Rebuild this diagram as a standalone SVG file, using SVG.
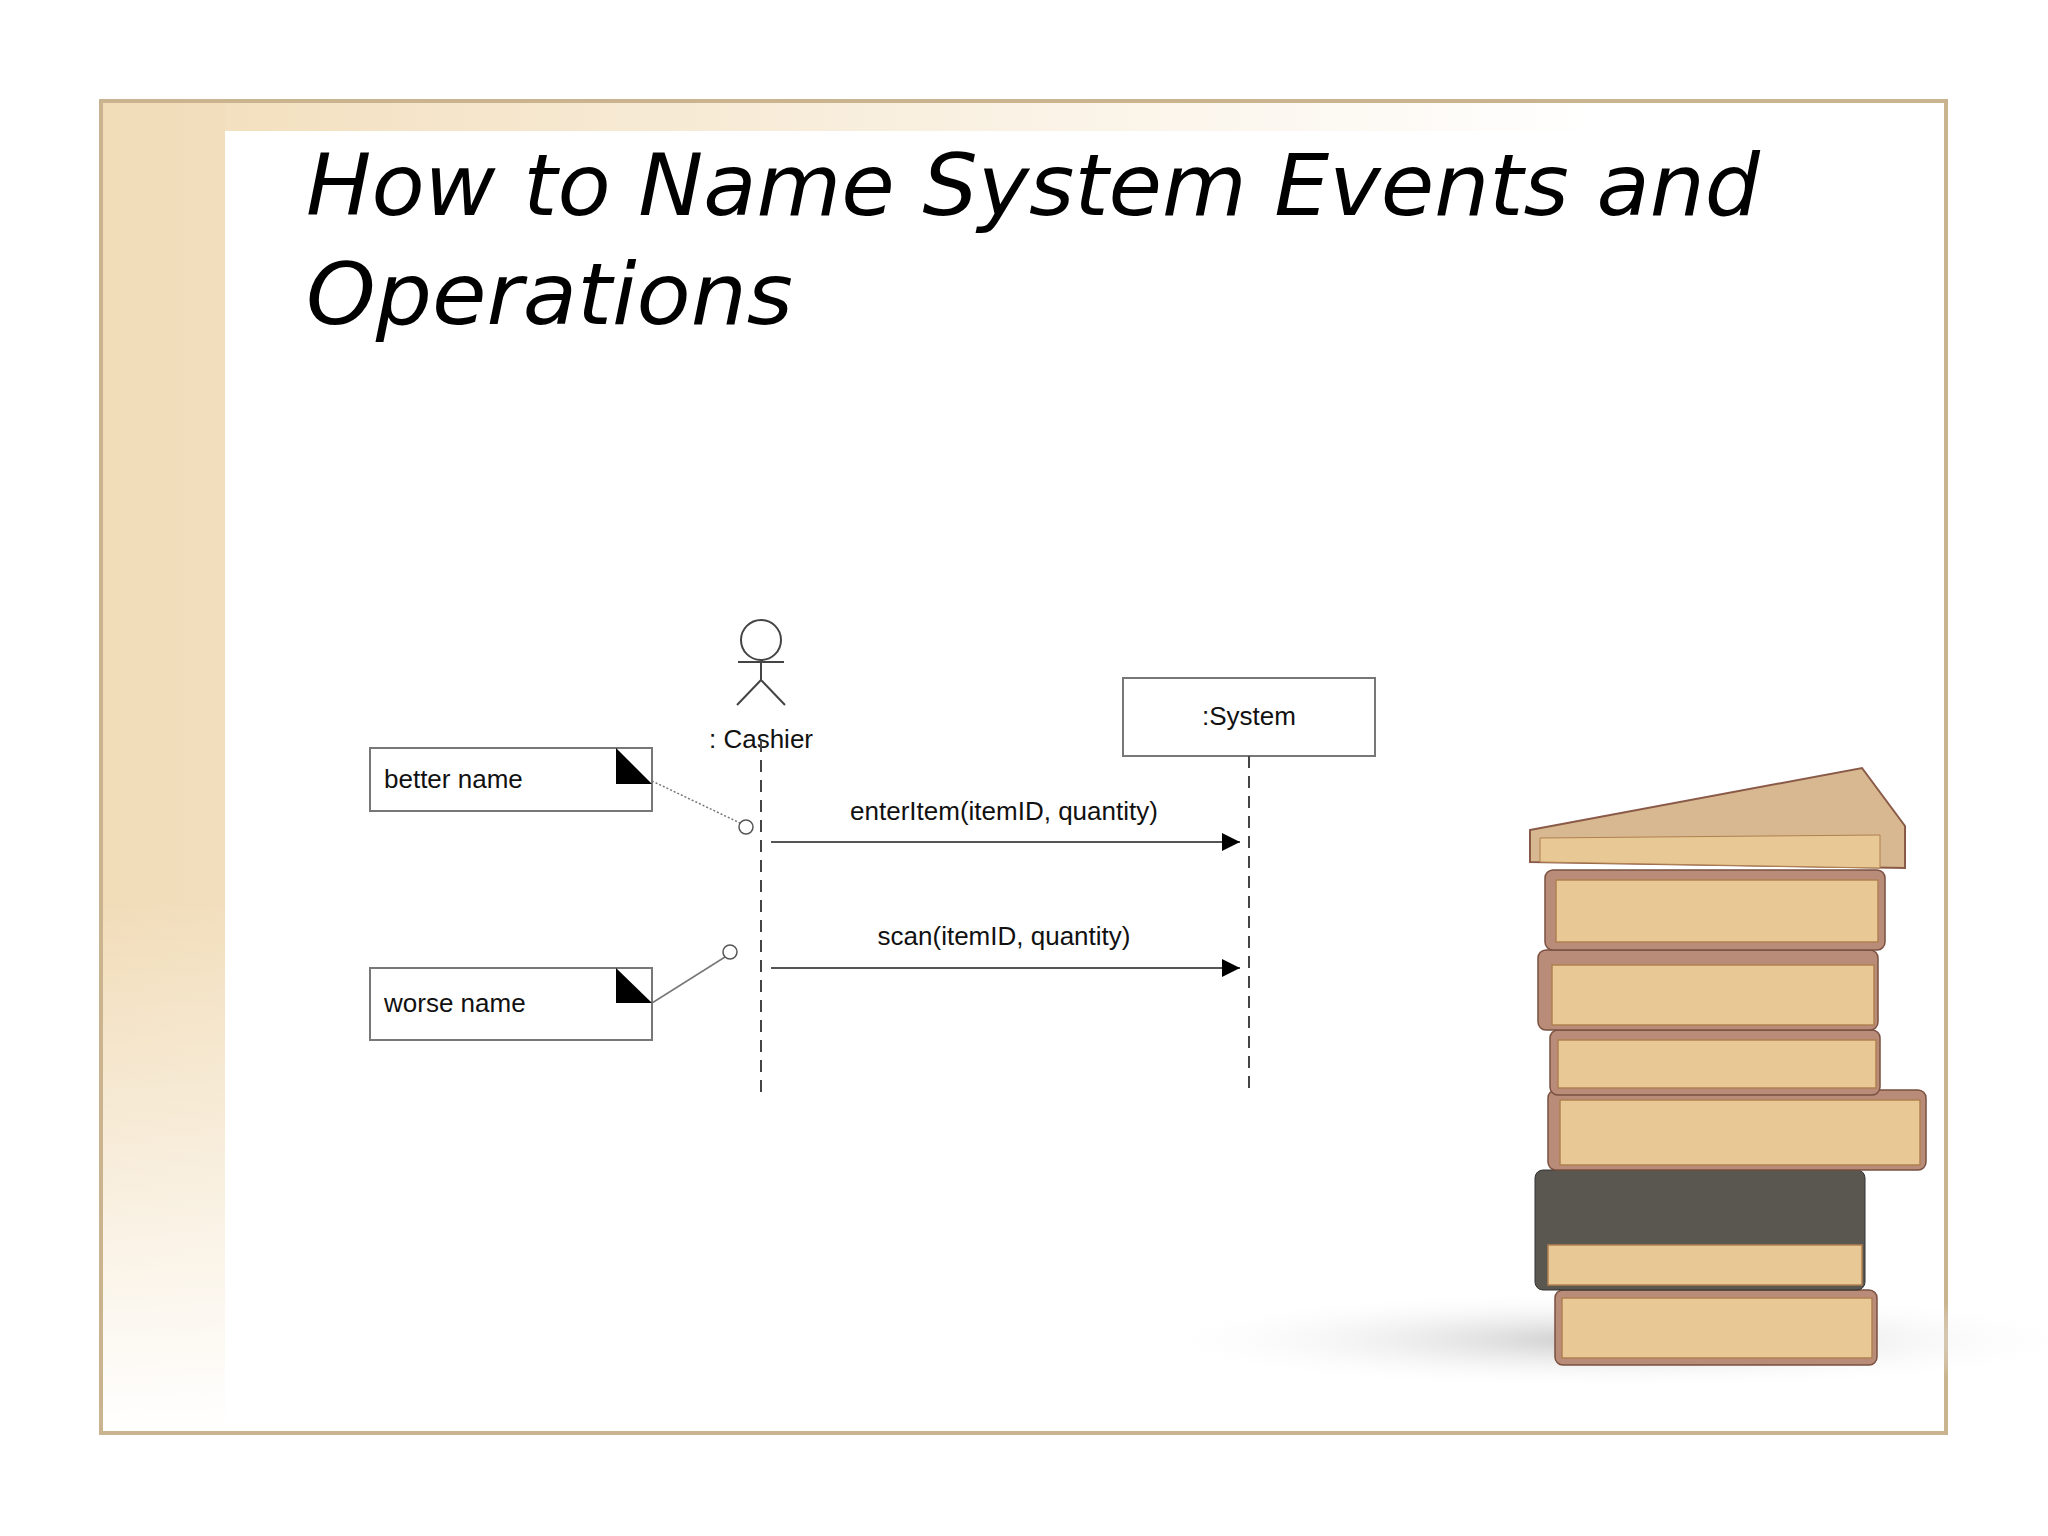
<svg xmlns="http://www.w3.org/2000/svg" width="2048" height="1536" viewBox="0 0 2048 1536">
<defs>
<linearGradient id="lg" x1="0" y1="0" x2="1" y2="0"><stop offset="0" stop-color="#f1dcb8"/><stop offset="1" stop-color="#fff"/></linearGradient>
<linearGradient id="tg" x1="0" y1="0" x2="1" y2="0"><stop offset="0" stop-color="#f3e0c0"/><stop offset="0.8" stop-color="#fff"/></linearGradient>
<linearGradient id="vg" x1="0" y1="0" x2="0" y2="1"><stop offset="0" stop-color="#fff" stop-opacity="0"/><stop offset="1" stop-color="#fff"/></linearGradient>
<marker id="ah" viewBox="0 0 10 10" refX="10" refY="5" markerWidth="18" markerHeight="18" markerUnits="userSpaceOnUse" orient="auto"><path d="M0,0 L10,5 L0,10 z" fill="#000"/></marker>
<radialGradient id="sh" cx="0.5" cy="0.5" r="0.5"><stop offset="0" stop-color="#c8c8c8"/><stop offset="1" stop-color="#fff" stop-opacity="0"/></radialGradient>
</defs>
<style>
.t{font-family:"Liberation Sans",Arial,sans-serif;font-size:26px;fill:#111}
.h{font-family:"DejaVu Sans","Open Sans",sans-serif;font-style:italic;font-size:86px;fill:#000}
.b{fill:#fff;stroke:#777;stroke-width:2}
.ll{stroke:#444;stroke-width:2;stroke-dasharray:12,8;fill:none}
.m{stroke:#555;stroke-width:2;fill:none}
.pg{fill:#e8c894;stroke:#b08050;stroke-width:1.5}
.cv{fill:#b88c78;stroke:#7a5040;stroke-width:1.5}
</style>
<rect width="2048" height="1536" fill="#fff"/>
<rect x="101" y="101" width="1845" height="1332" fill="url(#lg)"/>
<rect x="225" y="101" width="1721" height="30" fill="url(#tg)"/>
<rect x="225" y="131" width="1721" height="1302" fill="#fff"/>
<rect x="101" y="900" width="124" height="533" fill="url(#vg)"/>
<rect x="101" y="101" width="1845" height="1332" fill="none" stroke="#c9b48f" stroke-width="4"/>
<text class="h" x="306" y="215" textLength="1454" lengthAdjust="spacingAndGlyphs">How to Name System Events and</text>
<text class="h" x="306" y="324" textLength="487" lengthAdjust="spacingAndGlyphs">Operations</text>
<g id="cashier">
<circle cx="761" cy="640" r="20" fill="none" stroke="#444" stroke-width="2"/>
<path d="M761,660 V680 M738,662 H784 M761,680 L737,705 M761,680 L785,705" stroke="#444" stroke-width="2" fill="none"/>
<text class="t" x="761" y="748" text-anchor="middle">: Cashier</text>
</g>
<g id="system">
<rect class="b" x="1123" y="678" width="252" height="78"/>
<text class="t" x="1249" y="725" text-anchor="middle">:System</text>
</g>
<g id="note-better">
<rect class="b" x="370" y="748" width="282" height="63"/>
<path d="M616,748 L652,784 L616,784 z" fill="#000"/>
<text class="t" x="384" y="788">better name</text>
</g>
<g id="note-worse">
<rect class="b" x="370" y="968" width="282" height="72"/>
<path d="M616,968 L652,1003 L616,1003 z" fill="#000"/>
<text class="t" x="384" y="1012">worse name</text>
</g>
<g id="connectors">
<line class="ll" x1="761" y1="740" x2="761" y2="1093"/>
<line class="ll" x1="1249" y1="756" x2="1249" y2="1093"/>
<line class="m" x1="771" y1="842" x2="1240" y2="842" marker-end="url(#ah)"/>
<text class="t" x="1004" y="820" text-anchor="middle">enterItem(itemID, quantity)</text>
<line class="m" x1="771" y1="968" x2="1240" y2="968" marker-end="url(#ah)"/>
<text class="t" x="1004" y="945" text-anchor="middle">scan(itemID, quantity)</text>
<line x1="652" y1="781" x2="740" y2="823" stroke="#777" stroke-width="1.5" stroke-dasharray="2,2"/>
<circle cx="746" cy="827" r="7" fill="#fff" stroke="#555" stroke-width="1.5"/>
<line x1="652" y1="1003" x2="725" y2="957" stroke="#777" stroke-width="1.5"/>
<circle cx="730" cy="952" r="7" fill="#fff" stroke="#555" stroke-width="1.5"/>
</g>
<g id="books">
<ellipse cx="1620" cy="1340" rx="480" ry="50" fill="url(#sh)"/>
<rect class="cv" x="1555" y="1290" width="322" height="75" rx="8"/>
<rect class="pg" x="1562" y="1298" width="310" height="60"/>
<rect x="1535" y="1170" width="330" height="120" rx="8" fill="#5a5650" stroke="#333"/>
<rect class="pg" x="1548" y="1245" width="314" height="40"/>
<rect class="cv" x="1548" y="1090" width="378" height="80" rx="8"/>
<rect class="pg" x="1560" y="1100" width="360" height="65"/>
<rect class="cv" x="1550" y="1030" width="330" height="65" rx="8"/>
<rect class="pg" x="1558" y="1040" width="318" height="48"/>
<rect class="cv" x="1538" y="950" width="340" height="80" rx="8"/>
<rect class="pg" x="1552" y="965" width="322" height="60"/>
<rect class="cv" x="1545" y="870" width="340" height="80" rx="8"/>
<rect class="pg" x="1556" y="880" width="322" height="62"/>
<path d="M1530,830 L1862,768 L1905,826 L1905,868 L1530,862 z" fill="#d8b890" stroke="#8a5a48" stroke-width="2"/>
<path d="M1540,838 L1880,835 L1880,868 L1540,862 z" fill="#e8c894" stroke="#b08050"/>
</g>
</svg>
